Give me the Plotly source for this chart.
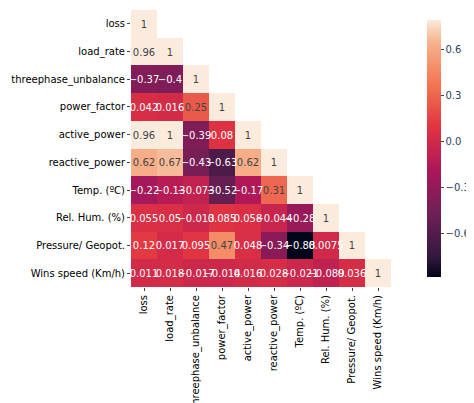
import plotly.graph_objects as go

labels = ["loss", "load_rate", "threephase_unbalance", "power_factor", "active_power",
          "reactive_power", "Temp. (ºC)", "Rel. Hum. (%)", "Pressure/ Geopot.", "Wins speed (Km/h)"]

# lower triangle rows (including diagonal)
rows = [
    [1],
    [0.96, 1],
    [-0.37, -0.4, 1],
    [0.042, 0.016, 0.25, 1],
    [0.96, 1, -0.39, 0.08, 1],
    [0.62, 0.67, -0.43, -0.63, 0.62, 1],
    [-0.22, -0.13, -0.073, -0.52, -0.17, 0.31, 1],
    [0.055, 0.05, -0.013, 0.085, 0.058, -0.044, -0.28, 1],
    [0.12, 0.017, 0.095, 0.47, 0.048, -0.34, -0.88, 0.0075, 1],
    [0.011, 0.018, -0.017, -0.014, 0.016, 0.028, -0.021, -0.089, 0.036, 1],
]

n = len(labels)
z = [r + [None] * (n - len(r)) for r in rows]
text = [[("%g" % v).replace("-", "−") if v is not None else "" for v in r] for r in z]

rocket = [
    [0.0, "#03051A"], [0.083, "#35193e"], [0.25, "#701f57"], [0.417, "#ad1759"],
    [0.583, "#e13342"], [0.75, "#f37651"], [0.917, "#f6b48f"], [1.0, "#faebdd"],
]

fig = go.Figure(go.Heatmap(
    z=z, x=labels, y=labels, text=text, texttemplate="%{text}",
    textfont=dict(size=10, family="DejaVu Sans"),
    colorscale=rocket, zmin=-0.88, zmax=0.79,
    hoverongaps=False,
    colorbar=dict(x=1.1, xanchor="left", thickness=14, len=1, y=0.5, yanchor="middle",
                  tickvals=[-0.6, -0.3, 0, 0.3, 0.6], ticktext=["−0.6", "−0.3", "0.0", "0.3", "0.6"],
                  ticks="outside", ticklen=3, outlinewidth=0,
                  tickfont=dict(size=10, family="DejaVu Sans")),
))

fig.update_xaxes(tickangle=-90, showgrid=False, ticks="outside", ticklen=3,
                 tickfont=dict(size=10, family="DejaVu Sans", color="black"))
fig.update_yaxes(autorange="reversed", showgrid=False, ticks="outside", ticklen=3,
                 tickfont=dict(size=10, family="DejaVu Sans", color="black"))
fig.update_layout(width=474, height=403, margin=dict(l=123, r=66, t=2, b=121),
                  plot_bgcolor="white", paper_bgcolor="white")

fig.write_html("out.html")
